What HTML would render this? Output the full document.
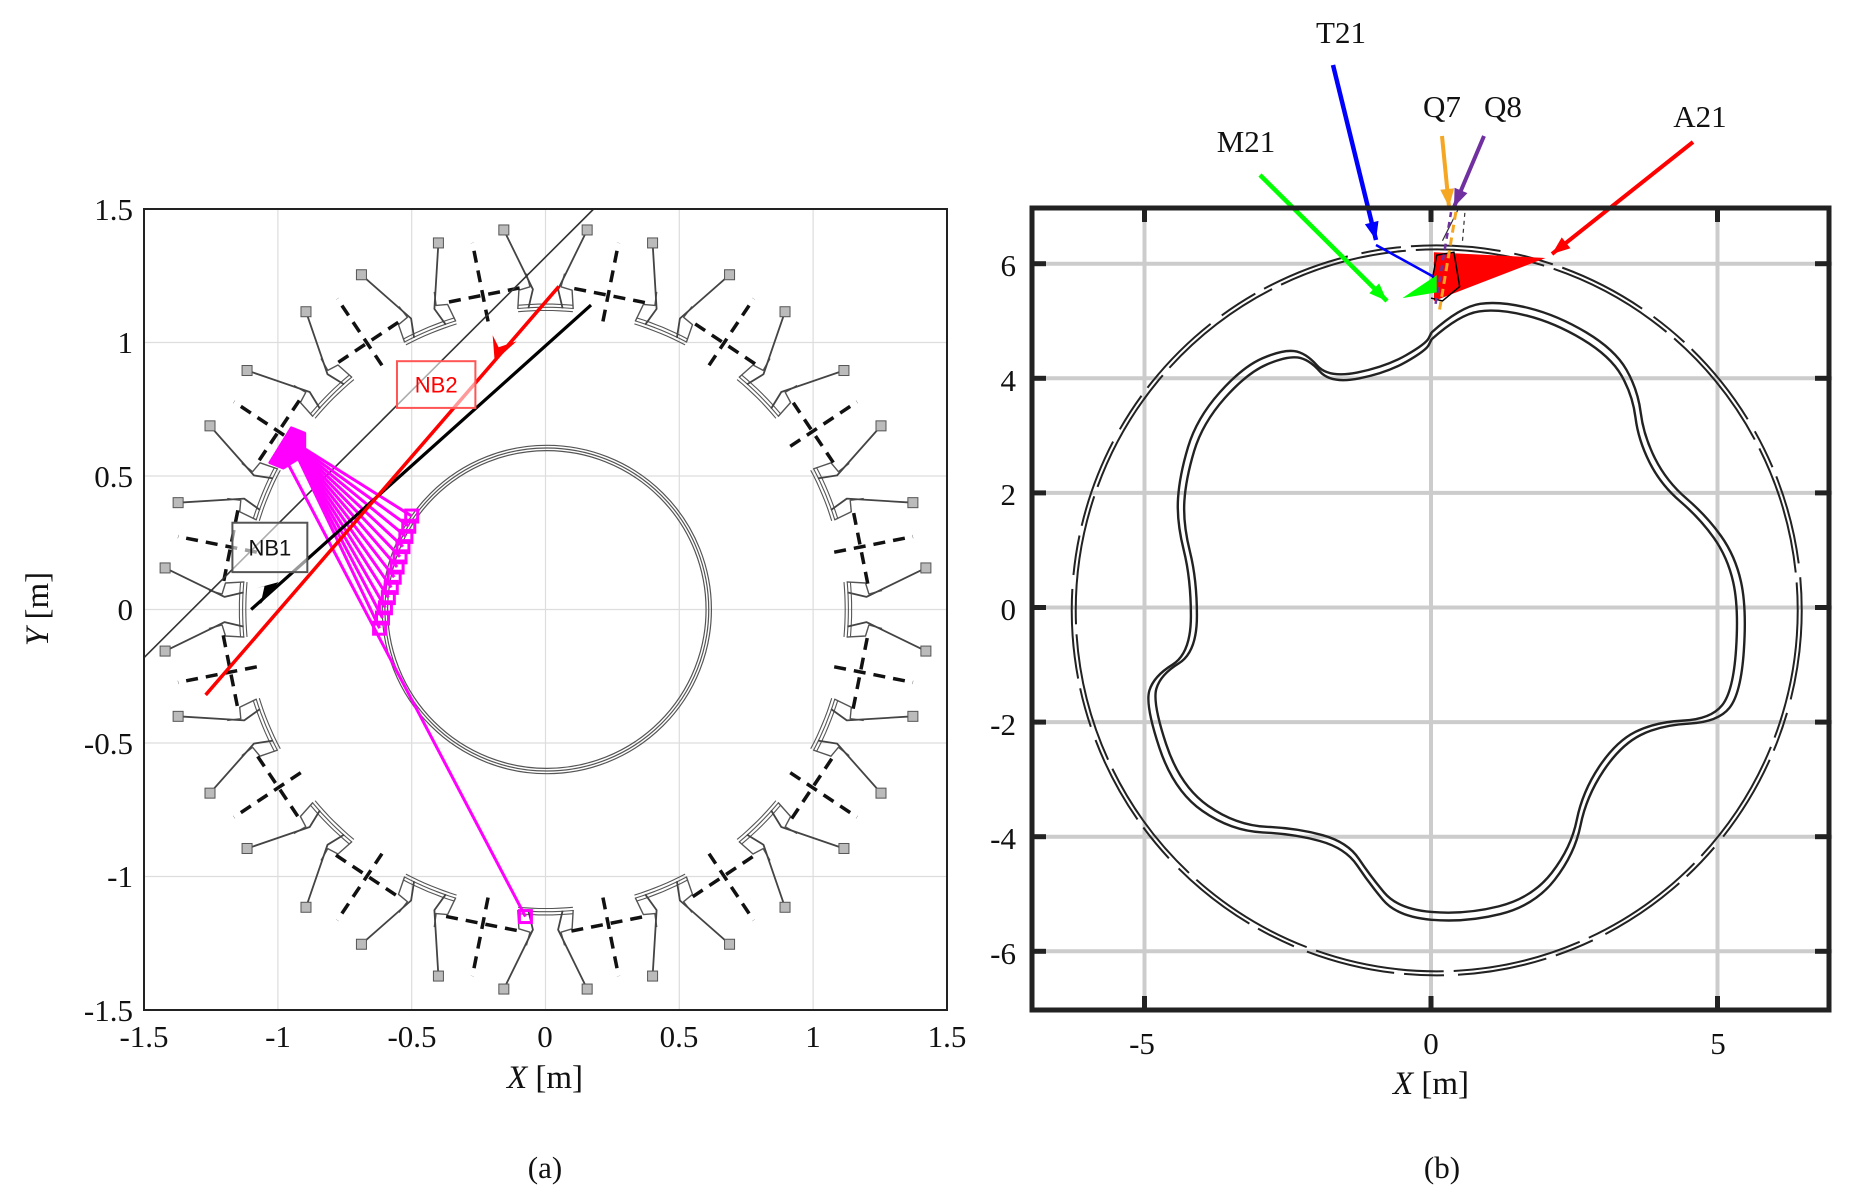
<!DOCTYPE html>
<html><head><meta charset="utf-8"><style>
html,body{margin:0;padding:0;background:#fff;}
svg{display:block;font-family:"Liberation Serif",serif;}
</style></head><body>
<svg id="s" width="1850" height="1202" viewBox="0 0 1850 1202" xmlns="http://www.w3.org/2000/svg">
<rect width="1850" height="1202" fill="#fff"/>
<g id="g"></g>
<g font-size="31" fill="#111">
<g text-anchor="end">
<text x="133" y="220">1.5</text><text x="133" y="353">1</text><text x="133" y="487">0.5</text>
<text x="133" y="620">0</text><text x="133" y="754">-0.5</text><text x="133" y="887">-1</text><text x="133" y="1021">-1.5</text>
</g>
<g text-anchor="middle">
<text x="144" y="1047">-1.5</text><text x="278" y="1047">-1</text><text x="412" y="1047">-0.5</text>
<text x="545" y="1047">0</text><text x="679" y="1047">0.5</text><text x="813" y="1047">1</text><text x="947" y="1047">1.5</text>
<text x="545" y="1088" font-size="33"><tspan font-style="italic">X</tspan> [m]</text>
<text x="545" y="1178">(a)</text>
<text x="1142" y="1054">-5</text><text x="1431" y="1054">0</text><text x="1718" y="1054">5</text>
<text x="1431" y="1094" font-size="33"><tspan font-style="italic">X</tspan> [m]</text>
<text x="1442" y="1178">(b)</text>
<text x="1341" y="43">T21</text><text x="1246" y="152">M21</text>
<text x="1442" y="117">Q7</text><text x="1503" y="117">Q8</text><text x="1700" y="127">A21</text>
</g>
<text transform="translate(48,609) rotate(-90)" text-anchor="middle" font-size="33"><tspan font-style="italic">Y</tspan> [m]</text>
<g text-anchor="end">
<text x="1016" y="276">6</text><text x="1016" y="391">4</text><text x="1016" y="505">2</text>
<text x="1016" y="620">0</text><text x="1016" y="735">-2</text><text x="1016" y="849">-4</text><text x="1016" y="964">-6</text>
</g>
</g>
</svg>
<script>
(function(){
var NS="http://www.w3.org/2000/svg",G=document.getElementById("g");
function el(t,a,p){var e=document.createElementNS(NS,t);for(var k in a)e.setAttribute(k,a[k]);(p||G).appendChild(e);return e;}
function L(x,y){return [545.5+267.6*x,609.5-267*y];}
function R(x,y){return [1431+57.3*x,607.5-57.3*y];}
function pts(a){return a.map(function(p){return p[0].toFixed(1)+","+p[1].toFixed(1)}).join(" ");}
function line(a,b,st){var o={x1:a[0],y1:a[1],x2:b[0],y2:b[1],stroke:st.c||"#000","stroke-width":st.w||1.5};if(st.d)o["stroke-dasharray"]=st.d;return el("line",o);}
function pl(a,st){var o={points:pts(a),fill:st.f||"none",stroke:st.c||"#000","stroke-width":st.w||1.5,"stroke-linejoin":"round"};if(st.d)o["stroke-dasharray"]=st.d;if(st.close)return el("polygon",o);return el("polyline",o);}
var i,k;
for(i=-1;i<=1;i+=0.5){line(L(i,-1.5),L(i,1.5),{c:"#ddd",w:1.2});line(L(-1.5,i),L(1.5,i),{c:"#ddd",w:1.2});}
[0.595,0.605,0.615].forEach(function(r){var c=L(0.005,0);el("ellipse",{cx:c[0],cy:c[1],rx:r*267.6,ry:r*267,fill:"none",stroke:"#555","stroke-width":1.2});});
function P(r,t){return L(r*Math.cos(t),r*Math.sin(t));}
function Q(r,t){return [r*Math.cos(t),r*Math.sin(t)];}
var D=Math.PI/180;
for(k=0;k<16;k++){
 var t=(11.25+22.5*k)*D, t2=(11.25+22.5*(k+1))*D;
 [1.12,1.132,1.144].forEach(function(r){var a=[];for(var q=0;q<=8;q++){a.push(P(r,t+6*D+(t2-t-12*D)*q/8));}pl(a,{c:"#555",w:1.1});});
 [-1,1].forEach(function(s){
   var ta=t+s*6*D;
   pl([P(1.13,ta),P(1.2,ta+s*0.5*D),P(1.21,ta+s*2.5*D),P(1.26,ta+s*2*D)],{c:"#555",w:1.4});
   var e=Q(1.43,t+s*5*D);
   pl([P(1.13,t+s*8*D),P(1.2,t+s*9*D),L(e[0],e[1])],{c:"#444",w:1.8});
   var ep=L(e[0],e[1]);el("rect",{x:ep[0]-5,y:ep[1]-5,width:10,height:10,fill:"#bbb",stroke:"#555","stroke-width":1});
 });
 var ur=[Math.cos(t),Math.sin(t)],ut=[-Math.sin(t),Math.cos(t)];
 var c=Q(1.2,t);
 line(L(c[0]-ur[0]*0.1,c[1]-ur[1]*0.1),L(c[0]+ur[0]*0.2,c[1]+ur[1]*0.2),{c:"#111",w:3.5,d:"12 8"});
 line(L(c[0]-ut[0]*0.14,c[1]-ut[1]*0.14),L(c[0]+ut[0]*0.14,c[1]+ut[1]*0.14),{c:"#111",w:3.5,d:"12 8"});
}
line(L(-1.5,-0.18),L(0.18,1.5),{c:"#333",w:1.6});
var src=[-0.96,0.6];
for(i=0;i<12;i++){var f=i/11;var tgt=[-0.5-0.12*f,0.35-0.42*f];line(L(src[0]+0.02*f,src[1]+0.04*(1-f)),L(tgt[0],tgt[1]),{c:"#f0f",w:3});var p=L(tgt[0],tgt[1]);el("rect",{x:p[0]-6,y:p[1]-6,width:12,height:12,fill:"none",stroke:"#f0f","stroke-width":3});}
pl([L(-1.03,0.55),L(-0.95,0.68),L(-0.9,0.66),L(-0.9,0.58),L(-0.98,0.53)],{c:"#f0f",f:"#f0f",close:1,w:3});
line(L(-0.98,0.58),L(-0.075,-1.15),{c:"#f0f",w:3});
var m=L(-0.075,-1.15);el("rect",{x:m[0]-6,y:m[1]-6,width:12,height:12,fill:"none",stroke:"#f0f","stroke-width":3});
line(L(-1.1,0.0),L(0.17,1.14),{c:"#000",w:3.2});
var a1=L(-1.05,0.05);el("path",{d:"M"+(a1[0]+14)+","+(a1[1]-14)+" l-22,6 l8,-2 l-4,18 z",fill:"#000"});
line(L(-1.27,-0.32),L(0.05,1.21),{c:"#f00",w:3.5});
var a2=L(-0.19,0.93);el("path",{d:"M"+a2[0]+","+a2[1]+" l-2,-26 l6,12 l18,-6 z",fill:"#f00"});
var b=L(-0.555,0.93),b2=L(-0.262,0.755);el("rect",{x:b[0],y:b[1],width:b2[0]-b[0],height:b2[1]-b[1],fill:"#fff","fill-opacity":0.6,stroke:"#f55","stroke-width":2});
el("text",{x:(b[0]+b2[0])/2,y:(b[1]+b2[1])/2+8,"text-anchor":"middle","font-family":"Liberation Sans,sans-serif","font-size":22,fill:"#f00"}).textContent="NB2";
b=L(-1.17,0.325);b2=L(-0.89,0.14);el("rect",{x:b[0],y:b[1],width:b2[0]-b[0],height:b2[1]-b[1],fill:"#fff","fill-opacity":0.6,stroke:"#555","stroke-width":2});
el("text",{x:(b[0]+b2[0])/2,y:(b[1]+b2[1])/2+8,"text-anchor":"middle","font-family":"Liberation Sans,sans-serif","font-size":22,fill:"#111"}).textContent="NB1";
el("rect",{x:144,y:209,width:803,height:801,fill:"none",stroke:"#222","stroke-width":2});
// ===== RIGHT =====
[-5,0,5].forEach(function(x){line(R(x,-7),R(x,7),{c:"#ccc",w:4});});
[-6,-4,-2,0,2,4,6].forEach(function(y){line(R(-7,y),R(7,y),{c:"#ccc",w:4});});
[6.3,6.37].forEach(function(r,ix){var c=R(0.1,-0.05);el("ellipse",{cx:c[0],cy:c[1],rx:r*57.3,ry:r*57.3,fill:"none",stroke:"#222","stroke-width":2,"stroke-dasharray":ix?"90 14 40 10":"130 10"});});
var inner=[[0,4.8],[0.5,5.25],[1.2,5.35],[2.2,5.1],[3.2,4.5],[3.6,3.8],[3.7,3.0],[4.1,2.2],[4.8,1.6],[5.3,0.9],[5.5,0],[5.4,-1.5],[5.0,-2.0],[4.0,-2.05],[3.3,-2.4],[2.7,-3.3],[2.5,-4.3],[1.8,-5.2],[0.6,-5.5],[-0.6,-5.4],[-1.1,-4.8],[-1.5,-4.2],[-2.4,-3.95],[-3.5,-3.9],[-4.5,-3.2],[-5.0,-1.7],[-4.85,-1.2],[-4.2,-0.8],[-4.2,0.5],[-4.45,1.5],[-4.4,2.3],[-4.1,3.3],[-3.3,4.2],[-2.6,4.5],[-2.2,4.45],[-1.8,4.0],[-0.8,4.2],[-0.1,4.6],[0,4.8]];
function smooth(a,f){var s="M"+f(a[0][0],a[0][1]).join(",");for(var i=1;i<a.length-1;i++){var p=f(a[i][0],a[i][1]),n=f((a[i][0]+a[i+1][0])/2,(a[i][1]+a[i+1][1])/2);s+=" Q"+p.join(",")+" "+n.join(",");}var l=f(a[a.length-1][0],a[a.length-1][1]);s+=" L"+l.join(",");return s;}
[1,0.975].forEach(function(sc){el("path",{d:smooth(inner.map(function(p){return[p[0]*sc+0.01,p[1]*sc]}),R),fill:"none",stroke:"#222","stroke-width":2.4});});
el("path",{d:"M"+R(0.05,5.35).join(",")+" L"+R(0.05,6.2).join(",")+" L"+R(2.0,6.1).join(",")+" Z",fill:"#f00"});
el("path",{d:"M"+R(0,5.6).join(",")+" L"+R(0.1,6.15).join(",")+" L"+R(0.4,6.2).join(",")+" L"+R(0.5,5.6).join(",")+" L"+R(0.2,5.35).join(",")+" L"+R(0,5.4).join(","),fill:"none",stroke:"#000","stroke-width":1.5});
line(R(0.2,6.4),R(0.5,7),{c:"#333",w:1.2});line(R(0.55,6.4),R(0.6,7),{c:"#333",w:1.2,d:"4 4"});
line(R(0.15,5.2),R(0.45,7),{c:"#f5a623",w:3,d:"8 5"});
line(R(0.08,5.3),R(0.35,6.9),{c:"#7030a0",w:2.5,d:"6 5"});
el("path",{d:"M"+R(-0.5,5.4).join(",")+" L"+R(0.1,5.8).join(",")+" L"+R(0.1,5.5).join(",")+" Z",fill:"#0f0"});
function arrow(a,b,c,w){line(a,b,{c:c,w:w});var dx=b[0]-a[0],dy=b[1]-a[1],L2=Math.sqrt(dx*dx+dy*dy);dx/=L2;dy/=L2;var h=18,hw=7;el("path",{d:"M"+b[0]+","+b[1]+" L"+(b[0]-dx*h-dy*hw)+","+(b[1]-dy*h+dx*hw)+" L"+(b[0]-dx*h+dy*hw)+","+(b[1]-dy*h-dx*hw)+" Z",fill:c});}
arrow([1333,65],[1376,240],"#00f",4.5);
line([1376,245],[1434,277],{c:"#00f",w:2.5});
arrow([1260,175],[1387,301],"#0f0",4.5);
arrow([1442,136],[1449,207],"#f5a623",4);
arrow([1484,136],[1454,207],"#7030a0",4);
arrow([1693,142],[1552,254],"#f00",4);
el("rect",{x:1032,y:208,width:797,height:802,fill:"none",stroke:"#222","stroke-width":5});
[-5,0,5].forEach(function(x){var p=R(x,-7);line([p[0],1008],[p[0],996],{c:"#222",w:5});line([p[0],210],[p[0],222],{c:"#222",w:5});});
[-6,-4,-2,0,2,4,6].forEach(function(y){var p=R(-7,y);line([1034,p[1]],[1046,p[1]],{c:"#222",w:5});line([1827,p[1]],[1815,p[1]],{c:"#222",w:5});});
})();
</script>
</body></html>
